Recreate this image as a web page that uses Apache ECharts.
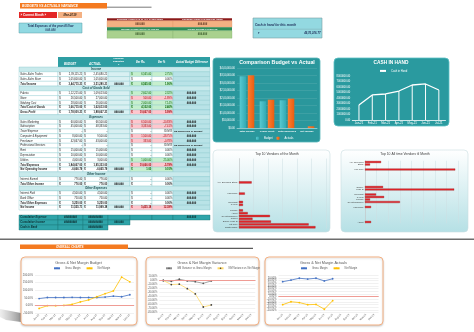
<!DOCTYPE html>
<html><head><meta charset="utf-8">
<script src="https://cdn.jsdelivr.net/npm/echarts@6/dist/echarts.min.js"></script>
<style>html,body{margin:0;padding:0;background:#fff;}#c{width:474px;height:332px;}</style>
</head><body><div id="c"></div><script>
// ---------- chart data ----------
const cmpCategories = ['Total Income', 'Gross Profit', 'Total Expenses', 'Net Income'];
const cmpBudget = [344667, 178000, 184667, 0];
const cmpActual = [351333, 188667, 195333, 11333];

const cashMonths = ['Jan-21', 'Feb-21', 'Mar-21', 'Apr-21', 'May-21', 'Jun-21', 'Jul-21'];
const cashValues = [2730000, 4550000, 4730000, 5270000, 6360000, 6550000, 5450000];

const vendorMonthNames = ['', '', '', '', '', '', '', '', 'Am. Specified Stock', '', '', '', 'Facebook', '', '', 'Microsoft', 'G-Mail', '', 'Google', 'Agent', 'Go Stockbroker', 'Canva', 'Supply Time B', 'Lift Tree', 'Sastra Bank'];
const vendorMonthValues = [null, null, null, null, null, null, null, null, 8700, null, null, null, 4000, null, null, 2700, 2700, null, 2700, 6000, 21300, 9300, 22000, 48000, 52700];

const vendorAllNames = ['Am. Specified', 'Stock', '', 'Life Tree', '', '', '', '', '', '', 'Supply', 'Time B', '', 'Microsoft', 'G-Mail', 'Google', 'Go Stockbroker', '', 'Facebook', '', '', '', '', '', 'Agent'];
const vendorAllValues = [138000, 43000, null, 776000, null, null, null, null, null, null, 155000, 767000, null, 95000, 164000, 43000, 300000, null, 52000, null, null, null, null, null, 52000];

const marginMonths = ['Jan-21', 'Feb-21', 'Mar-21', 'Apr-21', 'May-21', 'Jun-21', 'Jul-21', 'Aug-21', 'Sep-21', 'Oct-21', 'Nov-21', 'Dec-21'];
const gmBudget = [45, 52, 52, 52, 53, 52, 52, 52, 55, 61, 57, 70];
const nmBudget = [-20, -2, -2, 0, 7, 23, 36, 57, 77, 95, 186, 155];
const gmVariance = [-1, -3, 2, -2, -4, -8, -2];
const nmVariance = [-1, -11, -10, -21, -34, -66, -61];
const gmActual = [56, 62, 69, 66, 69, 59, 67];
const nmActual = [-30, -19, -22, -30, -29, -47, -15];

// ---------- table text ----------
const tableKinds = ['sec','item','item','total','sec','item','item','item','total','total','sec','item','item','item','item','item','item','item','item','item','total','total','sec','item','total','sec','item','item','total','total'];
const tableLabels = ['Income','Sales-Sales Trades','Sales-Sales Store','Total Income','Cost of Goods Sold','Fabrics','Store','Stitching Cost','Total Cost of Goods','Gross Profit','Expenses','Sales Marketing','Subscription','Travel Expense','Computer & Equipment','Freelancer','Professional Services','Rent','Depreciation','Utilities','Total Expenses','Net Operating Income','Other Income','Interest Earned','Total Other Income','Other Expenses','Interest Paid','Bank Office','Total Other Expenses','Net Income'];
const tableBudget = ['','2,39,115.21','1,05,600.00','3,44,715.21','','1,12,215.00','26,500.00','28,000.00','1,66,715.00','1,78,000.21','','60,000.00','45,000.00','-','8,000.00','42,667.00','-','15,000.00','10,000.00','4,000.00','1,84,667.00','-6,666.79','','776.00','776.00','','4,500.00','750.00','5,250.00','11,555.71'];
const tableActual = ['','2,45,680.21','1,05,600.00','3,51,280.21','','1,09,613.00','27,000.00','26,000.00','1,62,613.00','1,88,667.21','','66,500.00','48,333.00','-','9,500.00','43,000.00','-','15,000.00','10,000.00','3,000.00','1,95,333.00','-6,665.79','','776.00','776.00','','4,500.00','750.00','5,250.00','11,999.38'];
const tableVarExp = ['','','','###.###','','','','','','###.###','','','','','','','','','','','','###.###','','','###.###','','','','','###.###'];
const tableVarRs = ['','6,565.00','-','6,565.00','','2,602.00','500.00','2,000.00','4,102.00','10,667.00','','6,500.00','3,333.00','-','1,500.00','333.00','-','-','-','1,000.00','10,666.00','1.00','','-','-','','-','-','-','5,435.18'];
const tableVarPct = ['','2.75%','0.00%','1.90%','','2.32%','-1.89%','7.14%','2.46%','5.99%','','-10.83%','-7.41%','#DIV/0!','-18.75%','-0.78%','#DIV/0!','0.00%','0.00%','25.00%','-5.78%','0.01%','','0.00%','0.00%','','0.00%','0.00%','0.00%','12.38%'];
const tableFlags = ['','g','','g','','g','r','g','g','r','','r','r','','r','r','','','','g','r','g','','','','','','','','r'];
const tableDiff = ['','','','','','###.###','###.###','###.###','','','','###.###','###.###','No Difference in Budget','###.###','###.###','No Difference in Budget','###.###','###.###','###.###','###.###','','','','','','###.###','###.###','###.###',''];
const cumLabels = ['Cumulative Expense', 'Cumulative Income', 'Cash in Bank'];

// ---------- helpers ----------
const FF = '"Liberation Sans", Arial, sans-serif';
const G = [];
function R(x, y, w, h, fill, stroke, lw, z, r, extraStyle) {
  const st = {fill: fill, stroke: stroke || null, lineWidth: lw || 0};
  if (extraStyle) Object.assign(st, extraStyle);
  G.push({type: 'rect', z: z === undefined ? 1 : z, shape: {x: x, y: y, width: w, height: h, r: r || 0}, style: st});
}
function T(x, y, t, size, color, align, weight, italic, z) {
  G.push({type: 'text', z: z || 4, x: x, y: y, style: {text: t, fill: color,
    font: (italic ? 'italic ' : '') + (weight || 'normal') + ' ' + size + 'px ' + FF,
    align: align || 'left', verticalAlign: 'middle', textAlign: align || 'left', textVerticalAlign: 'middle'}});
}
function L(x1, y1, x2, y2, color, w, z) {
  G.push({type: 'line', z: z || 2, shape: {x1: x1, y1: y1, x2: x2, y2: y2}, style: {stroke: color, lineWidth: w}});
}
function fmtIN(n) {
  const s = Math.round(Math.abs(n)).toString();
  if (s.length <= 3) return s;
  const last3 = s.slice(-3);
  const rest = s.slice(0, -3).replace(/\B(?=(\d{2})+(?!\d))/g, ',');
  return rest + ',' + last3;
}

// ---------- top blocks ----------
R(20, 3, 87, 5.5, '#f47a20');
T(22, 5.9, 'BUDGETS VS ACTUALS VARIANCE', 3.3, '#ffffff', 'left', 'bold', true);
L(107, 7.2, 151.5, 7.2, '#555555', 0.8);

R(19, 12, 38, 6, '#e32626');
T(20.5, 15.1, '» Current Month »', 3, '#ffffff', 'left', 'bold', true);
R(58, 12, 24, 6, '#f4b183');
T(70, 15.1, 'Mar-2019', 3, '#3b2a1a', 'center', 'bold', true);

R(19, 23, 63, 10, '#91d9e2', '#5a9ea6', 0.5);
T(50.5, 26.3, 'Total Expenses of the year till Now', 2.8, '#1f2f5a', 'center', 'bold', true);
T(50.5, 30.6, '###.###', 2.9, '#1f2f5a', 'center', 'bold');

R(107, 18.2, 66, 2.6, '#8b1a1a'); R(173, 18.2, 59, 2.6, '#8b1a1a');
T(140, 19.6, 'EXPENSE OVERLOAD IN ALL CATEGORIES', 2.2, '#ffffff', 'center', 'bold');
T(202.5, 19.6, 'EXPENSE OVERLOAD BUDGET ITEMS', 2.2, '#ffffff', 'center', 'bold');
R(107, 20.8, 66, 6.5, '#f4b183', '#d99060', 0.3); R(173, 20.8, 59, 6.5, '#f4b183', '#d99060', 0.3);
T(140, 24.2, '###.###', 2.7, '#3b1a0a', 'center', 'bold'); T(202.5, 24.2, '###.###', 2.7, '#3b1a0a', 'center', 'bold');
R(107, 27.3, 66, 3.4, '#2e8b57'); R(173, 27.3, 59, 3.4, '#2e8b57');
T(140, 29.1, 'INCOME COVERAGE IN ALL FIELDS', 2.2, '#ffffff', 'center', 'bold');
T(202.5, 29.1, 'OTHER INCOME COVERAGE', 2.2, '#ffffff', 'center', 'bold');
R(107, 30.7, 66, 7.5, '#a9d18e', '#7fae66', 0.3); R(173, 30.7, 59, 7.5, '#a9d18e', '#7fae66', 0.3);
T(140, 34.4, '###.###', 2.7, '#1d3d12', 'center', 'bold'); T(202.5, 34.4, '###.###', 2.7, '#1d3d12', 'center', 'bold');

R(253, 18, 69, 20, '#93d9e1', '#7a9ea3', 0.6);
T(255, 24.8, 'Cash in hand for this month', 3.1, '#1f2f5a', 'left', 'bold', true);
L(253, 29.2, 322, 29.2, '#7a9ea3', 0.4);
T(257.5, 33.4, '₹', 2.8, '#1f2f5a', 'left', 'bold');
T(320.5, 33.4, '46,76,106.77', 2.8, '#1f2f5a', 'right', 'bold', true);

// ---------- table ----------
const cols = [19, 58, 83, 108, 130, 152, 173, 210];
R(58, 57, 152, 10, '#2e9ea3');
T(70, 64.2, 'BUDGET', 2.9, '#ffffff', 'center', 'bold', true);
T(95, 64.2, 'ACTUAL', 2.9, '#ffffff', 'center', 'bold', true);
T(118.5, 58.8, 'Variance', 2.5, '#ffffff', 'center', 'bold', true);
T(118.5, 61.6, 'expected', 2.5, '#ffffff', 'center', 'bold', true);
T(118.5, 64.4, '?', 2.5, '#ffffff', 'center', 'bold', true);
T(140.5, 61.8, 'Var Rs.', 2.8, '#ffffff', 'center', 'bold', true);
T(161.5, 61.8, 'Var %', 2.8, '#ffffff', 'center', 'bold', true);
T(192, 61.8, 'Actual Budget Difference', 2.7, '#ffffff', 'center', 'bold', true);

const rowH = 143 / 30, tTop = 67;
for (let i = 0; i < tableKinds.length; i++) {
  const y = tTop + i * rowH, cy = y + rowH / 2 + 0.1, k = tableKinds[i];
  if (k === 'sec') {
    R(19, y, 191, rowH, '#c9eaec', '#7cc3c7', 0.35);
    T(96, cy, tableLabels[i], 2.9, '#1d4e50', 'center', 'bold', true);
    continue;
  }
  const f = tableFlags[i];
  const vf = f === 'g' ? '#c6efce' : f === 'r' ? '#ffc7ce' : '#ffffff';
  const vt = f === 'g' ? '#006100' : f === 'r' ? '#9c0006' : '#1a1a1a';
  const fills = ['#ffffff', '#ffffff', '#ffffff', '#d8f0f2', vf, vf, '#b9e3e7'];
  for (let c = 0; c < 7; c++) R(cols[c], y, cols[c + 1] - cols[c], rowH, fills[c], '#7cc3c7', 0.35);
  const w = k === 'total' ? 'bold' : 'normal';
  const fs = 2.6;
  T(20.3, cy, tableLabels[i], fs, '#1a1a1a', 'left', k === 'total' ? 'bold' : 'normal', true);
  T(59.3, cy, '$', fs, '#1a1a1a', 'left', w);
  T(82.3, cy, tableBudget[i], fs, '#1a1a1a', 'right', w);
  T(84.3, cy, '$', fs, '#1a1a1a', 'left', w);
  T(107.3, cy, tableActual[i], fs, '#1a1a1a', 'right', w);
  if (tableVarExp[i]) T(119, cy, tableVarExp[i], fs, '#1a1a1a', 'center', 'bold');
  T(131.3, cy, '$', fs, vt, 'left', w);
  T(151.3, cy, tableVarRs[i], fs, vt, 'right', w);
  T(172.3, cy, tableVarPct[i], fs, vt, 'right', w);
  if (tableDiff[i]) {
    if (tableDiff[i].length > 8) T(174, cy, tableDiff[i], 2.5, '#1a1a1a', 'left', 'bold', true, 6);
    else T(191.5, cy, tableDiff[i], fs, '#1a1a1a', 'center', 'bold');
  }
}
// cumulative rows
const cumEnd = [7, 4, 3];
for (let r = 0; r < 3; r++) {
  const y = 215 + r * 5, cy = y + 2.6;
  for (let c = 0; c < cumEnd[r]; c++) R(cols[c], y, cols[c + 1] - cols[c], 5, '#2fa4a9', '#1d7377', 0.4);
  T(20.3, cy, cumLabels[r], 2.7, '#0d2f31', 'left', 'bold', true);
  if (r < 2) T(70.5, cy, '#########', 2.6, '#0d2f31', 'center', 'bold');
  T(95.5, cy, '##########', 2.6, '#0d2f31', 'center', 'bold');
}
T(191.5, 217.6, '###.###', 2.6, '#0d2f31', 'center', 'bold');
T(119, 222.6, '###.###', 2.6, '#0d2f31', 'center', 'bold');

// ---------- separators ----------
L(0, 239.2, 474, 239.2, '#6d6d6d', 1.6);
R(20, 244.5, 108, 4.5, '#f47a20');
T(56, 246.9, 'OVERALL CHARTS', 3, '#ffffff', 'left', 'bold', true);
L(128, 248.4, 253, 248.4, '#5a5a5a', 1.3);

// ---------- chart boxes ----------
R(213, 58, 107, 84, '#2a979c', '#58b6ba', 0.8, -10, 3);
R(334, 58, 115, 68, '#2a9a9f', '#5bc0c4', 0.8, -10, 4);
const vgrad = new echarts.graphic.LinearGradient(0, 0, 0, 1, [{offset: 0, color: '#ffffff'}, {offset: 1, color: '#b5e0e5'}]);
R(213, 150, 117, 82, vgrad, '#c9dde0', 0.6, -10, 4);
R(341, 150, 127, 82, vgrad, '#c9dde0', 0.6, -10, 4);
const shadow = {shadowBlur: 2, shadowColor: 'rgba(0,0,0,0.18)', shadowOffsetY: 1};
R(21, 257, 116, 68, '#ffffff', '#f4b183', 1, -10, 4, shadow);
R(146, 257, 113, 68, '#ffffff', '#f4b183', 1, -10, 4, shadow);
R(265, 257, 118, 68, '#ffffff', '#f4b183', 1, -10, 4, shadow);
G.push({type: 'polygon', z: -11, shape: {points: [[0, 309], [21, 313], [21, 322], [6, 320], [0, 317]]},
  style: {fill: new echarts.graphic.LinearGradient(0, 0, 1, 0, [{offset: 0, color: 'rgba(140,140,140,0.15)'}, {offset: 1, color: 'rgba(90,90,90,0.65)'}])}});

// ---------- echarts option ----------
const chart = echarts.init(document.getElementById('c'), null, {renderer: 'canvas'});
const grayLbl = {fontSize: 2.6, color: '#595959', margin: 1.5};
function marginX(idx) {
  return {gridIndex: idx, type: 'category', data: marginMonths, boundaryGap: true,
    axisLabel: Object.assign({rotate: 45, interval: 0}, grayLbl),
    axisLine: {lineStyle: {color: '#bfbfbf', width: 0.5}}, axisTick: {show: false}};
}
function marginY(idx, mn, mx, iv) {
  return {gridIndex: idx, type: 'value', min: mn, max: mx, interval: iv,
    axisLabel: Object.assign({formatter: v => v.toFixed(2) + '%'}, grayLbl, {margin: 2}),
    splitLine: {lineStyle: {color: '#e2e2e2', width: 0.5}}, axisLine: {show: false}, axisTick: {show: false}};
}
function zeroLine() {
  return {silent: true, symbol: 'none', label: {show: false}, lineStyle: {color: '#f2958d', width: 0.9, type: 'solid'}, data: [{yAxis: 0}]};
}
function lineS(name, xi, data, color, mcolor) {
  return {type: 'line', name: name, xAxisIndex: xi, yAxisIndex: xi, data: data, symbol: 'circle', symbolSize: 1.8,
    lineStyle: {color: color, width: 0.8}, itemStyle: {color: mcolor || color}};
}
const legendCommon = {itemWidth: 6, itemHeight: 2, itemGap: 5, padding: 0, textStyle: {fontSize: 2.6, color: '#595959', fontFamily: FF}};

const option = {
  animation: false,
  textStyle: {fontFamily: FF},
  graphic: {elements: G},
  title: [
    {text: 'Comparison Budget vs Actual', left: 277, top: 59.6, textAlign: 'center', padding: 0, textStyle: {fontSize: 5.3, color: '#ffffff', fontWeight: 'bold'}},
    {text: 'CASH IN HAND', left: 391, top: 60.6, textAlign: 'center', padding: 0, textStyle: {fontSize: 4.8, color: '#ffffff', fontWeight: 'bold'}},
    {text: 'Top 10 Vendors of the Month', left: 277, top: 152.3, textAlign: 'center', padding: 0, textStyle: {fontSize: 3.4, color: '#404040', fontWeight: 'normal'}},
    {text: 'Top 10 All time Vendors til Month', left: 405, top: 152.3, textAlign: 'center', padding: 0, textStyle: {fontSize: 3.4, color: '#404040', fontWeight: 'normal'}},
    {text: 'Gross & Net Margin Budget', left: 78.5, top: 260.6, textAlign: 'center', padding: 0, textStyle: {fontSize: 3.8, color: '#595959', fontWeight: 'normal'}},
    {text: 'Gross & Net Margin Variance', left: 202, top: 260.6, textAlign: 'center', padding: 0, textStyle: {fontSize: 3.8, color: '#595959', fontWeight: 'normal'}},
    {text: 'Gross & Net Margin Actuals', left: 323.5, top: 260.6, textAlign: 'center', padding: 0, textStyle: {fontSize: 3.8, color: '#595959', fontWeight: 'normal'}}
  ],
  legend: [
    {data: ['Budget', 'Actuals'], left: 256, top: 136.8, itemWidth: 3, itemHeight: 3, itemGap: 4, padding: 0, textStyle: {fontSize: 2.7, color: '#ffffff', fontFamily: FF}},
    {data: ['Cash in Hand'], left: 379, top: 69.4, itemWidth: 6, itemHeight: 2, padding: 0, textStyle: {fontSize: 2.7, color: '#ffffff', fontFamily: FF}},
    Object.assign({data: ['Gross Margin', 'Net Margin'], left: 53, top: 266.8}, legendCommon),
    Object.assign({data: ['GM Variance vs Gross Margin', 'NM Variance vs Net Margin'], left: 165, top: 266.8}, legendCommon),
    Object.assign({data: ['Gross Margin', 'Net Margin'], left: 300, top: 266.8}, legendCommon)
  ],
  grid: [
    {left: 237, top: 68, width: 80, height: 60},
    {left: 352.3, top: 76, width: 93.2, height: 44},
    {left: 239, top: 158.6, width: 87, height: 70},
    {left: 365, top: 160.75, width: 93, height: 62.5},
    {left: 35, top: 275, width: 99, height: 38},
    {left: 159.3, top: 276, width: 96, height: 36.7},
    {left: 278.5, top: 275.3, width: 100, height: 37.4}
  ],
  xAxis: [
    {gridIndex: 0, type: 'category', data: cmpCategories, axisLabel: {fontSize: 2.5, color: '#ffffff', fontWeight: 'bold', margin: 1.5, interval: 0},
      axisLine: {lineStyle: {color: '#bfe3e5', width: 0.6}}, axisTick: {show: false}},
    {gridIndex: 1, type: 'category', data: cashMonths, axisLabel: {fontSize: 2.8, color: '#ffffff', margin: 2, interval: 0},
      axisLine: {lineStyle: {color: '#ffffff', width: 0.8}}, axisTick: {show: false}},
    {gridIndex: 2, type: 'value', min: 0, max: 60000, interval: 10000, axisLabel: {show: false},
      splitLine: {lineStyle: {color: '#cddfe2', width: 0.5}}, axisLine: {show: false}, axisTick: {show: false}},
    {gridIndex: 3, type: 'value', min: 0, max: 800000, interval: 100000, axisLabel: {show: false},
      splitLine: {lineStyle: {color: '#cddfe2', width: 0.5}}, axisLine: {show: false}, axisTick: {show: false}},
    marginX(4), marginX(5), marginX(6)
  ],
  yAxis: [
    {gridIndex: 0, type: 'value', min: 0, max: 400000, interval: 50000,
      axisLabel: {fontSize: 2.6, color: '#ffffff', margin: 2, formatter: v => '$' + fmtIN(v) + '.00'},
      splitLine: {lineStyle: {color: 'rgba(255,255,255,0.18)', width: 0.5}}, axisLine: {show: false}, axisTick: {show: false}},
    {gridIndex: 1, type: 'value', min: 0, max: 8000000, interval: 1000000,
      axisLabel: {fontSize: 2.6, color: '#ffffff', margin: 2, formatter: v => v.toFixed(2)},
      splitLine: {show: false}, axisLine: {show: false}, axisTick: {show: false}},
    {gridIndex: 2, type: 'category', inverse: true, data: vendorMonthNames.map((n, i) => 'm' + i),
      axisLabel: {fontSize: 2.3, color: '#404040', margin: 1.5, interval: 0, formatter: (v, i) => vendorMonthNames[i]},
      axisLine: {lineStyle: {color: '#bfbfbf', width: 0.5}}, axisTick: {show: false}},
    {gridIndex: 3, type: 'category', inverse: true, data: vendorAllNames.map((n, i) => 'a' + i),
      axisLabel: {fontSize: 2.3, color: '#404040', margin: 1.5, interval: 0, formatter: (v, i) => vendorAllNames[i]},
      axisLine: {lineStyle: {color: '#bfbfbf', width: 0.5}}, axisTick: {show: false}},
    marginY(4, -50, 200, 50), marginY(5, -80, 10, 10), marginY(6, -60, 80, 10)
  ],
  series: [
    {type: 'bar', name: 'Budget', xAxisIndex: 0, yAxisIndex: 0, data: cmpBudget, barWidth: 6.5, barGap: '25%',
      itemStyle: {color: new echarts.graphic.LinearGradient(0, 0, 1, 0, [{offset: 0, color: '#58cad2'}, {offset: 1, color: '#33a9b2'}])}},
    {type: 'bar', name: 'Actuals', xAxisIndex: 0, yAxisIndex: 0, data: cmpActual, barWidth: 6.5, barGap: '25%',
      itemStyle: {color: new echarts.graphic.LinearGradient(0, 0, 1, 0, [{offset: 0, color: '#ff7e2e'}, {offset: 1, color: '#e85e12'}])}},
    {type: 'line', name: 'Cash in Hand', xAxisIndex: 1, yAxisIndex: 1, data: cashValues, symbol: 'none', z: 3,
      lineStyle: {color: '#ffffff', width: 1.3}, itemStyle: {color: '#ffffff'}},
    {type: 'bar', name: 'Cash drop', xAxisIndex: 1, yAxisIndex: 1, data: cashValues, barWidth: 0.8, silent: true,
      itemStyle: {color: '#ffffff'}},
    {type: 'bar', name: 'Vendors of the Month', xAxisIndex: 2, yAxisIndex: 2, data: vendorMonthValues, barWidth: 2.2,
      itemStyle: {color: '#e3262b', borderColor: '#8e0d10', borderWidth: 0.3}},
    {type: 'bar', name: 'All time Vendors', xAxisIndex: 3, yAxisIndex: 3, data: vendorAllValues, barWidth: 2,
      itemStyle: {color: '#e3262b', borderColor: '#8e0d10', borderWidth: 0.3}},
    lineS('Gross Margin', 4, gmBudget, '#4472c4'),
    Object.assign(lineS('Net Margin', 4, nmBudget, '#ffc000'), {markLine: zeroLine()}),
    lineS('GM Variance vs Gross Margin', 5, gmVariance, '#8c8c8c', '#595959'),
    Object.assign(lineS('NM Variance vs Net Margin', 5, nmVariance, '#ffd966', '#404040'), {markLine: zeroLine()}),
    lineS('Gross Margin', 6, gmActual, '#4472c4'),
    Object.assign(lineS('Net Margin', 6, nmActual, '#ffc000'), {markLine: zeroLine()})
  ]
};
chart.setOption(option);
</script></body></html>
